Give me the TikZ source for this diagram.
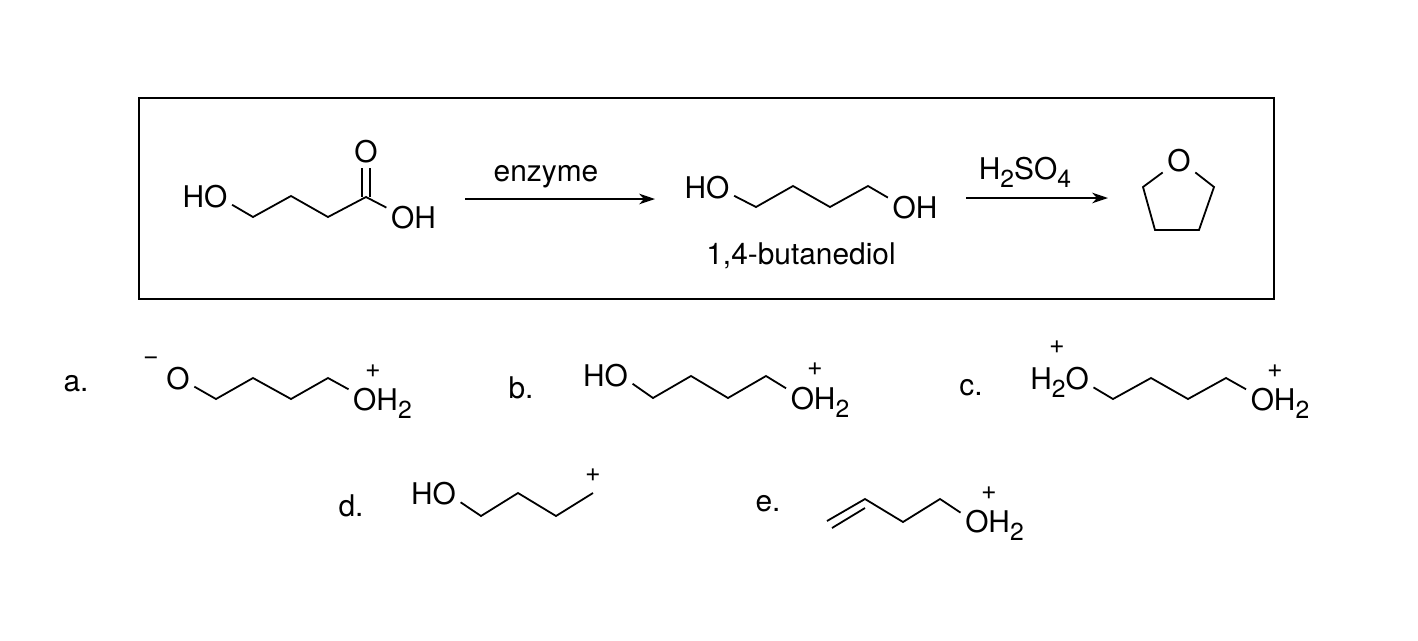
\documentclass[tikz,border=0pt]{standalone}
\usepackage{fontspec}
\setmainfont{TeX Gyre Heros}
\usetikzlibrary{arrows.meta}
\newcommand{\chemsub}[1]{\raisebox{-.27em}{\fontsize{18.5}{19}\selectfont #1}}

\begin{document}
\begin{tikzpicture}[x=.75pt, y=-.75pt,
                    every node/.style = {font=\fontsize{22.4}{25}\selectfont},
                    charge/.style = {font=\fontsize{20}{20}\selectfont, inner sep=0pt},
                    bond/.style = {line width=1.35pt},
                    dbond/.style = {double, double distance=4.6pt, line width=1.2pt},
                    rxn/.style = {line width=1.35pt, -{Stealth[length=12pt, width=8pt]}}]
  \useasboundingbox (0,0) rectangle (1418,640);

  % scheme in the box
  \draw[line width=1.6pt] (139,98) rectangle (1274,299);

  \node (acidHO) at (205,197) {HO};
  \node (acidO) at (366,152) {O};
  \node (acidOH) at (413.5,218) {OH};
  \coordinate (acid1) at (253,217);
  \coordinate (acid2) at (291,196);
  \coordinate (acid3) at (328,217);
  \coordinate (acid4) at (366,197);
  \draw[dbond] (acidO) -- (acid4);
  \draw[bond] (acidHO.-16) -- (acid1) -- (acid2) -- (acid3) -- (acid4) -- (acidOH.159);

  \coordinate (enzStart) at (465,199);
  \coordinate (enzEnd) at (655,199);
  \draw[rxn] (enzStart) -- (enzEnd);
  \node (enzLabel) at (546,177) {enzyme};

  \node (diolHO) at (707,188) {HO};
  \node (diolOH) at (915,208) {OH};
  \coordinate (diol1) at (756,207);
  \coordinate (diol2) at (793,186);
  \coordinate (diol3) at (830,207);
  \coordinate (diol4) at (868,186);
  \draw[bond] (diolHO.-16) -- (diol1) -- (diol2) -- (diol3) -- (diol4) -- (diolOH.159);
  \node (diolName) at (801,256) {1,4-butanediol};

  \coordinate (acidStart) at (966,198);
  \coordinate (acidEnd) at (1108,198);
  \draw[rxn] (acidStart) -- (acidEnd);
  \node (acidLabel) at (1025,172) {H\chemsub{2}SO\chemsub{4}};

  \node (thfO) at (1179,161) {O};
  \coordinate (thf1) at (1143,187);
  \coordinate (thf2) at (1155,230);
  \coordinate (thf3) at (1199,230);
  \coordinate (thf4) at (1214,187);
  \draw[bond] (thfO.215) -- (thf1) -- (thf2) -- (thf3) -- (thf4) -- (thfO.-35);

  % answer a
  \node (labelA) at (76,384) {a.};
  \node (aO) at (178,379) {O};
  \node (aOH) at (382.5,403) {OH\chemsub{2}};
  \node[charge] (aMinus) at (151,361) {−};
  \node[charge] (aPlus) at (373,371) {+};
  \coordinate (a1) at (216,399);
  \coordinate (a2) at (253,378);
  \coordinate (a3) at (291,399);
  \coordinate (a4) at (328,378);
  \draw[bond] (aO.-25) -- (a1) -- (a2) -- (a3) -- (a4) -- (aOH.158);

  % answer b
  \node (labelB) at (521,388) {b.};
  \node (bHO) at (605.5,376) {HO};
  \node (bOH) at (820,402) {OH\chemsub{2}};
  \node[charge] (bPlus) at (815,369) {+};
  \coordinate (b1) at (653,398);
  \coordinate (b2) at (691,376);
  \coordinate (b3) at (728,398);
  \coordinate (b4) at (766,376);
  \draw[bond] (bHO.-16) -- (b1) -- (b2) -- (b3) -- (b4) -- (bOH.158);

  % answer c
  \node (labelC) at (971,388) {c.};
  \node (cOH) at (1059.5,382) {H\chemsub{2}O};
  \node (cOHb) at (1280,403) {OH\chemsub{2}};
  \node[charge] (cPlus) at (1057,347) {+};
  \node[charge] (cPlusb) at (1275,371) {+};
  \coordinate (c1) at (1113,399);
  \coordinate (c2) at (1151,378);
  \coordinate (c3) at (1188,399);
  \coordinate (c4) at (1226,378);
  \draw[bond] (cOH.-9) -- (c1) -- (c2) -- (c3) -- (c4) -- (cOHb.158);

  % answer d
  \node (labelD) at (351,506) {d.};
  \node (dHO) at (433.5,494) {HO};
  \node[charge] (dPlus) at (593,475) {+};
  \coordinate (d1) at (481,516);
  \coordinate (d2) at (518,493);
  \coordinate (d3) at (556,516);
  \coordinate (d4) at (593,493);
  \draw[bond] (dHO.-17) -- (d1) -- (d2) -- (d3) -- (d4);

  % answer e
  \node (labelE) at (768,504) {e.};
  \node (eOH) at (994.5,525) {OH\chemsub{2}};
  \node[charge] (ePlus) at (989,493) {+};
  \coordinate (e0) at (827,521);
  \coordinate (e1) at (865,499);
  \coordinate (e2) at (903,522);
  \coordinate (e3) at (940,499);
  \coordinate (e0b) at (832,528);
  \coordinate (e1b) at (865,508);
  \draw[bond] (e0) -- (e1) -- (e2) -- (e3) -- (eOH.160);
  \draw[bond] (e0b) -- (e1b);
\end{tikzpicture}
\end{document}
